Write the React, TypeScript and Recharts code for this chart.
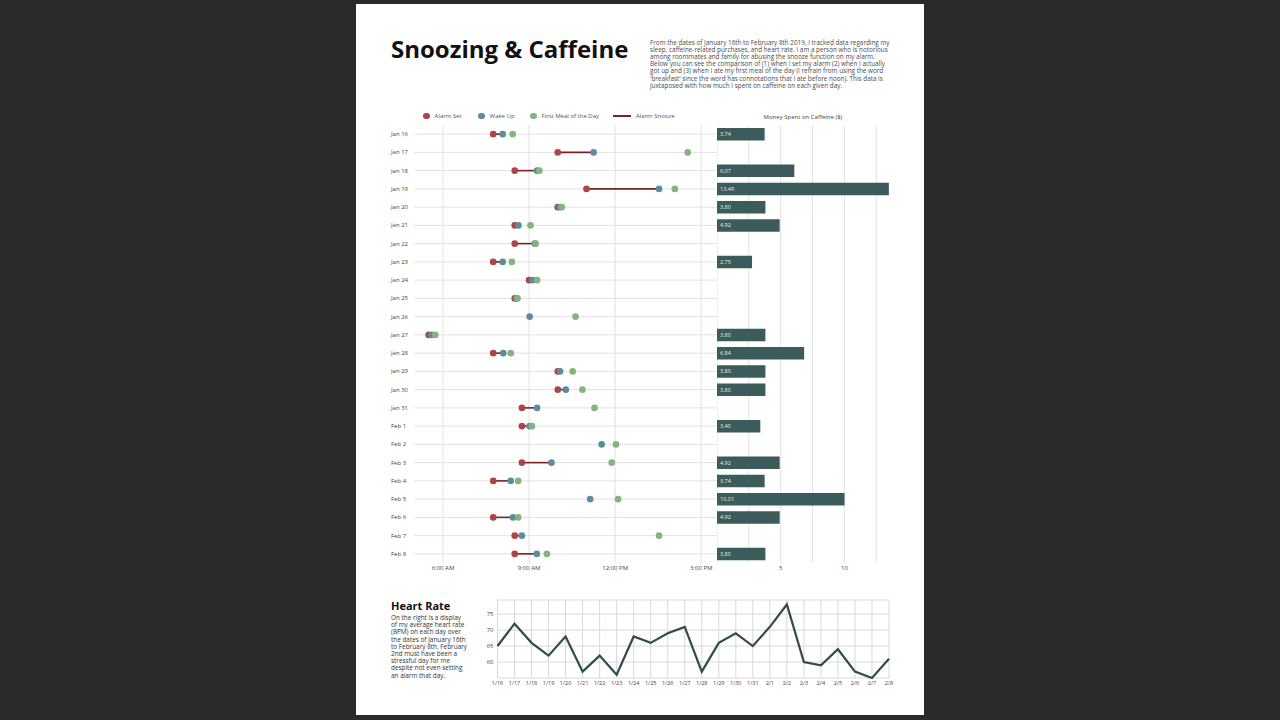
import React from 'react';
import {
  ScatterChart, Scatter, XAxis, YAxis, CartesianGrid,
  BarChart, Bar, LabelList, LineChart, Line,
} from 'recharts';

const days = [
  'Jan 16', 'Jan 17', 'Jan 18', 'Jan 19', 'Jan 20', 'Jan 21', 'Jan 22', 'Jan 23',
  'Jan 24', 'Jan 25', 'Jan 26', 'Jan 27', 'Jan 28', 'Jan 29', 'Jan 30', 'Jan 31',
  'Feb 1', 'Feb 2', 'Feb 3', 'Feb 4', 'Feb 5', 'Feb 6', 'Feb 7', 'Feb 8',
];

// hours of the day (decimal)
const alarmSet: (number | null)[] = [
  7.75, 10, 8.5, 11, 10, 8.5, 8.5, 7.75, 9, 8.5, null, 5.5,
  7.75, 10, 10, 8.75, 8.75, null, 8.75, 7.75, null, 7.75, 8.5, 8.5,
];
const wakeUp = [
  8.08, 11.25, 9.28, 13.53, 10.07, 8.63, 9.2, 8.08, 9.12, 8.56, 9.02, 5.6,
  8.1, 10.08, 10.28, 9.28, 9.02, 11.53, 9.78, 8.36, 11.13, 8.44, 8.75, 9.27,
];
const firstMeal = [
  8.43, 14.53, 9.36, 14.08, 10.14, 9.05, 9.23, 8.4, 9.28, 8.6, 10.62, 5.73,
  8.36, 10.52, 10.86, 11.28, 9.1, 12.03, 11.88, 8.62, 12.1, 8.62, 13.53, 9.62,
];

const timeTicks = [6, 9, 12, 15];
const timeLabels = ['6:00 AM', '9:00 AM', '12:00 PM', '3:00 PM'];

const caffeine: (number | null)[] = [
  3.74, null, 6.07, 13.49, 3.8, 4.92, null, 2.75, null, null, null, 3.8,
  6.84, 3.8, 3.8, null, 3.4, null, 4.92, 3.74, 10.01, 4.92, null, 3.8,
];
const moneyTicks = [0, 2.5, 5, 7.5, 10, 12.5];

const hrDates = [
  '1/16', '1/17', '1/18', '1/19', '1/20', '1/21', '1/22', '1/23', '1/24', '1/25', '1/26', '1/27',
  '1/28', '1/29', '1/30', '1/31', '2/1', '2/2', '2/3', '2/4', '2/5', '2/6', '2/7', '2/8',
];
const heartRate = [65, 72, 66, 62, 68, 57, 62, 56, 68, 66, 69, 71, 57, 66, 69, 65, 71, 78, 60, 59, 64, 57, 55, 61];
const hrTicks = [55, 60, 65, 70, 75, 79.4];

const RED = '#ad4448';
const BLUE = '#5b8d9e';
const GREEN = '#82b47c';
const SNOOZE = '#7a2224';
const TEAL = '#3b5c5a';
const GRID = '#e2e2e2';
const FONT = '"Open Sans", "Noto Sans", sans-serif';

const rows = days.map((_, i) => i);
const alarmPts = alarmSet.map((x, i) => ({ x, y: i })).filter((p) => p.x != null);
const wakePts = wakeUp.map((x, i) => ({ x, y: i }));
const mealPts = firstMeal.map((x, i) => ({ x, y: i }));
const snoozeSegs = alarmSet
  .map((a, i) => (a == null ? null : [{ x: a, y: i }, { x: wakeUp[i], y: i }]))
  .filter(Boolean) as { x: number; y: number }[][];

const barData = days.map((d, i) => ({ day: d, v: caffeine[i] }));
const hrData = heartRate.map((v, i) => ({ i, hr: v }));

const dot = (color: string) => (p: any) => <circle cx={p.cx} cy={p.cy} r={3.3} fill={color} />;

const DayTick = (p: any) => (
  <text x={6} y={p.y} dy="0.35em" textAnchor="start" fontSize={6} fill="#444" fontFamily={FONT}>
    {days[p.payload.value]}
  </text>
);

const legendItem = { display: 'flex', alignItems: 'center', position: 'absolute' as const, top: 112 };
const legendText = { fontSize: 6, color: '#555', marginLeft: 5, whiteSpace: 'nowrap' as const };
const circ = (c: string) => ({ width: 6.6, height: 6.6, borderRadius: '50%', background: c });

const descLines = [
  'From the dates of January 16th to February 8th 2019, I tracked data regarding my',
  'sleep, caffeine-related purchases, and heart rate. I am a person who is notorious',
  'among roommates and family for abusing the snooze function on my alarm.',
  'Below you can see the comparison of (1) when I set my alarm (2) when I actually',
  'got up and (3) when I ate my first meal of the day (I refrain from using the word',
  "'breakfast' since the word has connotations that I ate before noon). This data is",
  'juxtaposed with how much I spent on caffeine on each given day.',
];

const hrLines = [
  'On the right is a display',
  'of my average heart rate',
  '(BPM) on each day over',
  'the dates of January 16th',
  'to February 8th. February',
  '2nd must have been a',
  'stressful day for me',
  'despite not even setting',
  'an alarm that day.',
];

export default function App() {
  return (
    <div style={{ position: 'fixed', left: 0, top: 0, width: 1280, height: 720, background: '#2a2a2a', overflow: 'hidden', fontFamily: FONT }}>
      <div style={{ position: 'absolute', left: 356, top: 4, width: 568, height: 711, background: '#fff' }} />

      <div style={{ position: 'absolute', left: 391, top: 32, fontSize: 24, fontWeight: 700, color: '#111', whiteSpace: 'nowrap' }}>
        Snoozing &amp; Caffeine
      </div>

      <div style={{ position: 'absolute', left: 650, top: 38.5, fontSize: 6.35, lineHeight: '7.2px', color: '#4a4a4a' }}>
        {descLines.map((l) => (
          <div key={l} style={{ whiteSpace: 'nowrap' }}>{l}</div>
        ))}
      </div>

      {/* legend */}
      <div style={{ ...legendItem, left: 423 }}>
        <div style={circ(RED)} /><span style={legendText}>Alarm Set</span>
      </div>
      <div style={{ ...legendItem, left: 478 }}>
        <div style={circ(BLUE)} /><span style={legendText}>Wake Up</span>
      </div>
      <div style={{ ...legendItem, left: 530 }}>
        <div style={circ(GREEN)} /><span style={legendText}>First Meal of the Day</span>
      </div>
      <div style={{ ...legendItem, left: 613 }}>
        <div style={{ width: 18, height: 2, background: SNOOZE }} /><span style={legendText}>Alarm Snooze</span>
      </div>

      <div style={{ position: 'absolute', left: 717, top: 113, width: 172, textAlign: 'center', fontSize: 6, color: '#444' }}>
        Money Spent on Caffeine ($)
      </div>

      {/* dumbbell chart */}
      <div style={{ position: 'absolute', left: 385, top: 120 }}>
        <ScatterChart width={332} height={460} margin={{ top: 5, right: 0, bottom: 0, left: 0 }}>
          <CartesianGrid stroke={GRID} strokeWidth={1} horizontalValues={rows} verticalValues={timeTicks} />
          <XAxis
            type="number" dataKey="x" domain={[5, 15.55]} ticks={timeTicks}
            tickFormatter={(v) => timeLabels[timeTicks.indexOf(v)]}
            axisLine={false} tickLine={false} tickSize={0} tickMargin={3} height={17}
            tick={{ fontSize: 6, fill: '#444', fontFamily: FONT }}
          />
          <YAxis
            type="number" dataKey="y" domain={[-0.5, 23.5]} reversed
            ticks={rows} interval={0}
            axisLine={false} tickLine={false} width={29.3} tick={<DayTick />}
          />
          {snoozeSegs.map((seg, k) => (
            <Scatter key={k} data={seg} line={{ stroke: SNOOZE, strokeWidth: 1.6 }} shape={() => <g />} isAnimationActive={false} />
          ))}
          <Scatter data={alarmPts} shape={dot(RED)} isAnimationActive={false} />
          <Scatter data={wakePts} shape={dot(BLUE)} isAnimationActive={false} />
          <Scatter data={mealPts} shape={dot(GREEN)} isAnimationActive={false} />
        </ScatterChart>
      </div>

      {/* caffeine bars */}
      <div style={{ position: 'absolute', left: 717, top: 120 }}>
        <BarChart width={175} height={460} data={barData} layout="vertical" margin={{ top: 5, right: 3, bottom: 0, left: 0 }}>
          <CartesianGrid stroke={GRID} horizontal={false} verticalValues={moneyTicks} />
          <XAxis
            type="number" domain={[0, 13.5]} ticks={moneyTicks} interval={0}
            tickFormatter={(v) => (v === 5 || v === 10 ? String(v) : '')}
            axisLine={false} tickLine={false} tickSize={0} tickMargin={3} height={17}
            tick={{ fontSize: 6, fill: '#444', fontFamily: FONT }}
          />
          <YAxis type="category" dataKey="day" hide width={0} />
          <Bar dataKey="v" fill={TEAL} barSize={12.5} isAnimationActive={false}>
            <LabelList
              dataKey="v" position="insideLeft" offset={3}
              formatter={(v: any) => (v == null ? '' : Number(v).toFixed(2))}
              style={{ fontSize: 5.5, fill: '#e8eeee', fontFamily: FONT }}
            />
          </Bar>
        </BarChart>
      </div>

      {/* heart rate */}
      <div style={{ position: 'absolute', left: 391, top: 598, fontSize: 11, fontWeight: 700, color: '#111' }}>Heart Rate</div>
      <div style={{ position: 'absolute', left: 391, top: 614, fontSize: 6.4, lineHeight: '7.2px', color: '#333' }}>
        {hrLines.map((l) => (
          <div key={l} style={{ whiteSpace: 'nowrap' }}>{l}</div>
        ))}
      </div>
      <div style={{ position: 'absolute', left: 470, top: 596 }}>
        <LineChart width={430} height={96} data={hrData} margin={{ top: 4, right: 11, bottom: 0, left: 0 }}>
          <CartesianGrid stroke="#d8d8d8" />
          <XAxis
            type="number" dataKey="i" domain={[0, 23]} ticks={hrDates.map((_, i) => i)} interval={0}
            tickFormatter={(v) => hrDates[v]}
            axisLine={false} tickLine={false} tickSize={0} tickMargin={3} height={14}
            tick={{ fontSize: 5.5, fill: '#444', fontFamily: FONT }}
          />
          <YAxis
            type="number" domain={[55, 79.4]} ticks={hrTicks} interval={0}
            tickFormatter={(v) => (v === 55 || v > 79 ? '' : String(v))}
            axisLine={false} tickLine={false} tickSize={0} tickMargin={4} width={27.5}
            tick={{ fontSize: 6, fill: '#444', fontFamily: FONT }}
          />
          <Line type="linear" dataKey="hr" stroke="#2f4d49" strokeWidth={2.2} dot={false} isAnimationActive={false} />
        </LineChart>
      </div>
    </div>
  );
}
